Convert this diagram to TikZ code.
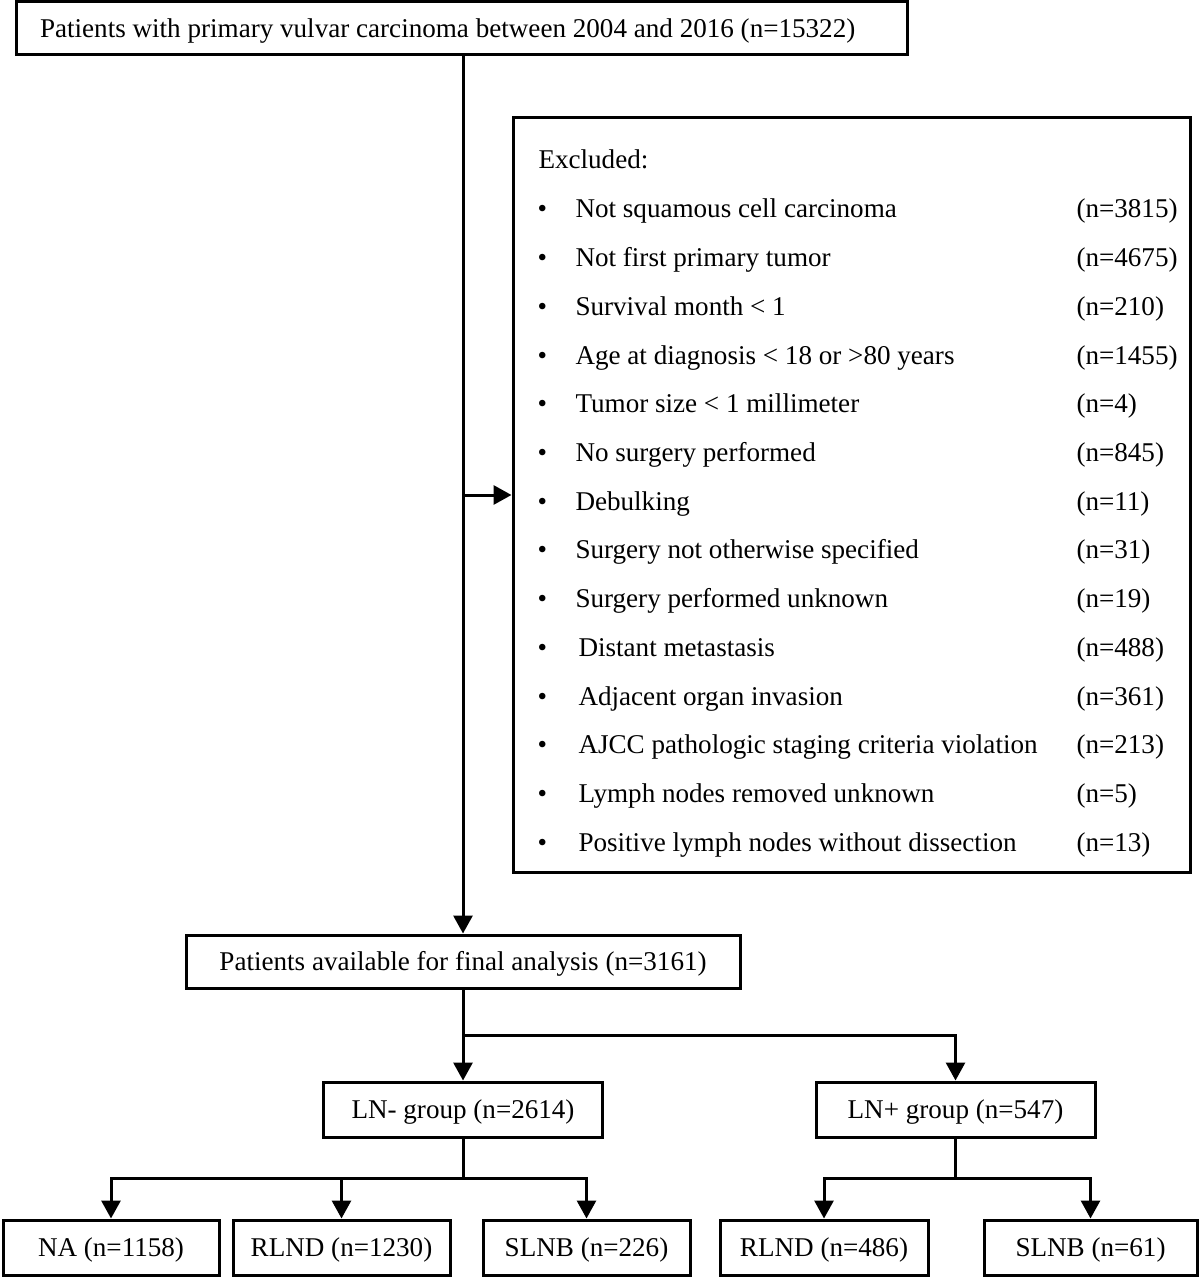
\documentclass[tikz,border=0pt]{standalone}
\usepackage{fontspec}
\setmainfont{Liberation Serif}
\usetikzlibrary{arrows.meta}
\begin{document}
\begin{tikzpicture}[x=0.5pt,y=-0.5pt, line width=1.5pt,
  box/.style={draw, line width=1.5pt, inner sep=0pt, align=center, text height=10.5pt, text depth=1.5pt},
  arr/.style={-{Triangle[length=9pt,width=9.5pt]}},
  lbl/.style={anchor=base west, inner sep=0pt},
  font=\fontsize{13.55}{16}\selectfont]
\useasboundingbox (0,0) rectangle (1200,1278);

\node[box, minimum width=445.5pt, minimum height=26.5pt, inner xsep=12pt] (top) at (461.5,28.5) {\makebox[421.5pt][l]{Patients with primary vulvar carcinoma between 2004 and 2016 (n=15322)}};

\node[draw, line width=1.5pt, inner sep=0pt, minimum width=338.5pt, minimum height=377pt] (excl) at (851.5,495) {};
\node[lbl] (exhead) at (537,169) {Excluded:};
\foreach \i/\t/\c/\xx in {
  0/Not squamous cell carcinoma/3815/574,
  1/Not first primary tumor/4675/574,
  2/Survival month < 1/210/574,
  3/Age at diagnosis < 18 or >80 years/1455/574,
  4/Tumor size < 1 millimeter/4/574,
  5/No surgery performed/845/574,
  6/Debulking/11/574,
  7/Surgery not otherwise specified/31/574,
  8/Surgery performed unknown/19/574,
  9/Distant metastasis/488/577,
  10/Adjacent organ invasion/361/577,
  11/AJCC pathologic staging criteria violation/213/577,
  12/Lymph nodes removed unknown/5/577,
  13/Positive lymph nodes without dissection/13/577}{
  \pgfmathsetmacro{\yy}{218+48.7*\i}
  \node[lbl] (bul\i) at (536,\yy) {•};
  \node[lbl] (item\i) at (\xx,\yy) {\t};
  \node[lbl] (cnt\i) at (1075,\yy) {(n=\c)};
}

\node[box, minimum width=277pt, minimum height=26.5pt] (final) at (463,961.5) {Patients available for final analysis (n=3161)};
\node[box, minimum width=139.5pt, minimum height=27.5pt] (lnm) at (463,1109.5) {LN- group (n=2614)};
\node[box, minimum width=139.5pt, minimum height=27.5pt] (lnp) at (955.5,1109.5) {LN+ group (n=547)};
\node[box, minimum width=108pt, minimum height=27.5pt] (na) at (111,1247.5) {NA (n=1158)};
\node[box, minimum width=108.5pt, minimum height=27.5pt] (rlnd) at (341.5,1247.5) {RLND (n=1230)};
\node[box, minimum width=103.5pt, minimum height=27.5pt] (slnb) at (586.5,1247.5) {SLNB (n=226)};
\node[box, minimum width=104pt, minimum height=27.5pt] (rl2) at (824,1247.5) {RLND (n=486)};
\node[box, minimum width=106.5pt, minimum height=27.5pt] (sl2) at (1090.5,1247.5) {SLNB (n=61)};

\draw[arr] (top.south -| final.north) -- (final.north);
\draw[arr] (excl.west -| final.north) -- (excl.west);
\coordinate (j1) at (463,1035);
\draw (final.south) -- (j1);
\draw[arr] (j1) -- (lnm.north);
\draw[arr] (j1) -| (lnp.north);
\coordinate (j2) at (463,1178);
\draw (lnm.south) -- (j2);
\draw[arr] (j2) -| (na.north);
\draw[arr] (j2) -| (slnb.north);
\draw[arr] (rlnd.north |- j2) -- (rlnd.north);
\coordinate (j3) at (955.5,1178);
\draw (lnp.south) -- (j3);
\draw[arr] (j3) -| (rl2.north);
\draw[arr] (j3) -| (sl2.north);
\end{tikzpicture}
\end{document}
